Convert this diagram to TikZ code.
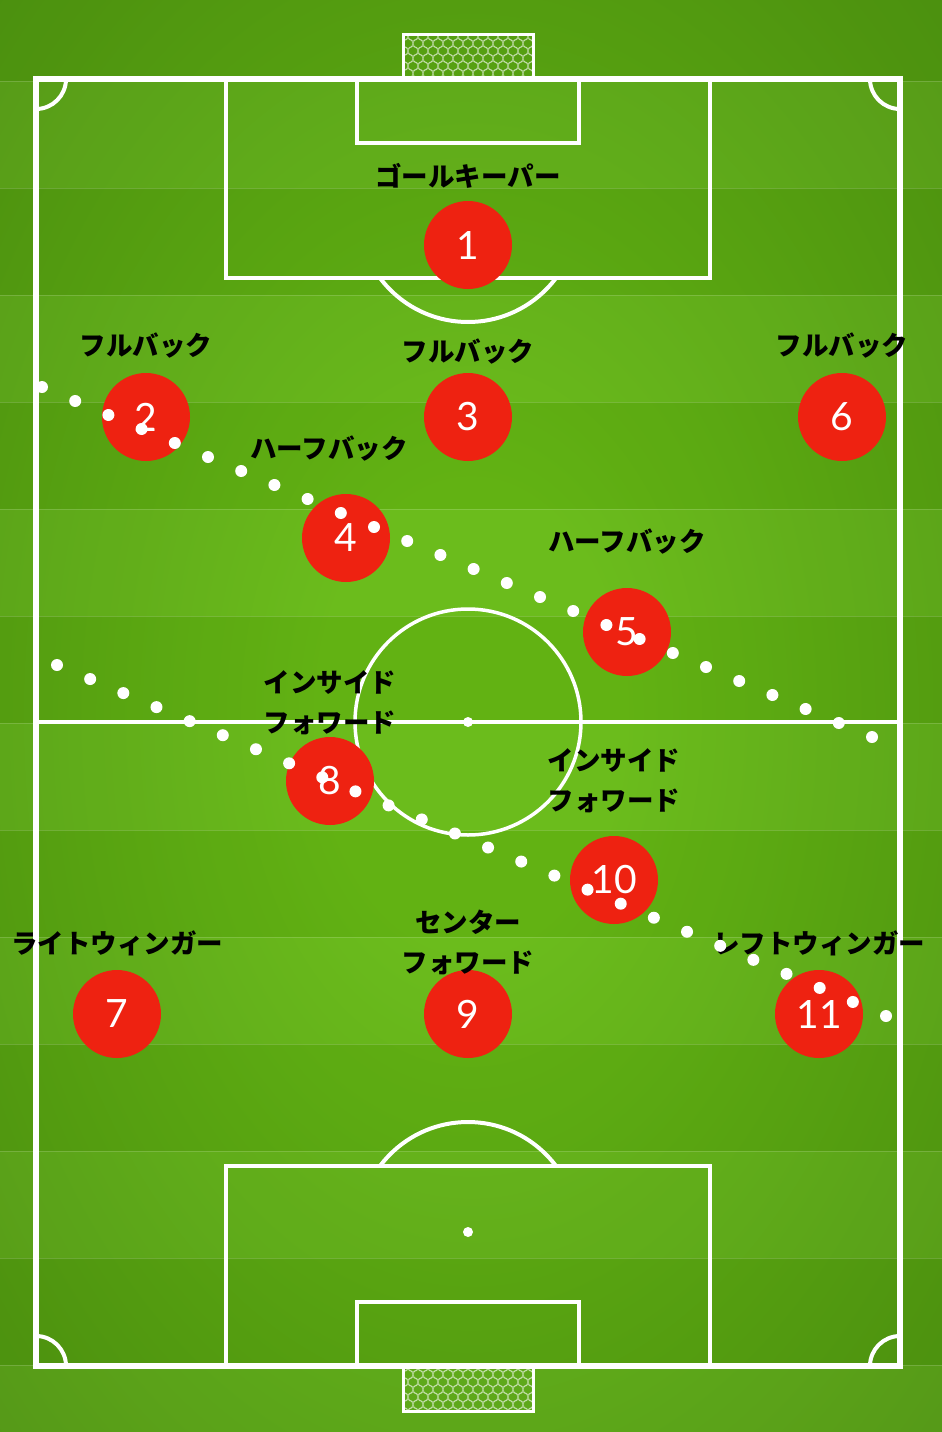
\documentclass[tikz,border=0pt]{standalone}
\usepackage{fontspec}
\newfontfamily\jpfont{Noto Sans CJK JP}
\newfontfamily\numfont{Lato}
\definecolor{grassC}{RGB}{102,186,20}
\definecolor{grassE}{RGB}{50,104,10}
\definecolor{plred}{RGB}{238,34,17}
\pgfdeclareradialshading{grass}{\pgfpoint{0bp}{0bp}}{color(0bp)=(grassC); color(8bp)=(grassC); color(71bp)=(grassE)}
\tikzset{
  pline/.style={draw=white,line width=4},
  netline/.style={draw=white,opacity=0.45,line width=0.9},
  player/.style={circle,fill=plred,minimum size=88,inner sep=0,text=white,font=\numfont\fontsize{39}{39}\selectfont},
  lab/.style={font=\jpfont\bfseries\fontsize{26.5}{40}\selectfont,align=center,text=black,inner sep=0},
  dotw/.style={circle,fill=white,minimum size=12,inner sep=0}
}
\begin{document}
\begin{tikzpicture}[x=1pt,y=-1pt]
\useasboundingbox (0,0) rectangle (942,1432);
\shade[shading=grass] (0,0) rectangle (942,1432);
% stripes
\foreach \k in {0,2,...,12} \fill[white,opacity=0.035] (0,{81+107*\k}) rectangle (942,{188+107*\k});
\foreach \k in {-1,1,...,11} \fill[black,opacity=0.04] (0,{81+107*\k}) rectangle (942,{188+107*\k});
\foreach \k in {0,...,12} \draw[white,opacity=0.16,line width=1] (0,{81+107*\k}) -- (942,{81+107*\k});
% goals with nets
\begin{scope}
\clip (403,33) rectangle (533,79);
\foreach \j in {0,...,6} \foreach \i in {0,...,13} \draw[netline] ({403+10*\i+5*mod(\j,2)},{36+7.5*\j}) circle (5);
\end{scope}
\draw[white,line width=3] (403,79) -- (403,34) -- (533,34) -- (533,79);
\begin{scope}
\clip (403,1366) rectangle (533,1412);
\foreach \j in {0,...,6} \foreach \i in {0,...,13} \draw[netline] ({403+10*\i+5*mod(\j,2)},{1367+7.5*\j}) circle (5);
\end{scope}
\draw[white,line width=3] (403,1366) -- (403,1411) -- (533,1411) -- (533,1366);
% pitch markings
\draw[pline,line width=6] (36,79) rectangle (900,1366);
\draw[pline] (226,79) rectangle (710,278);
\draw[pline] (357,79) rectangle (579,143);
\draw[pline] (226,1166) rectangle (710,1366);
\draw[pline] (357,1302) rectangle (579,1366);
\begin{scope}
\clip (0,280) rectangle (942,420);
\draw[pline] (468,212) circle (110);
\end{scope}
\begin{scope}
\clip (0,1030) rectangle (942,1164);
\draw[pline] (468,1232) circle (110);
\end{scope}
\begin{scope}
\clip (36,79) rectangle (900,1366);
\draw[pline] (36,79) circle (30);
\draw[pline] (900,79) circle (30);
\draw[pline] (36,1366) circle (30);
\draw[pline] (900,1366) circle (30);
\end{scope}
\draw[pline] (36,722) -- (900,722);
\draw[pline,line width=3.5] (468,722) circle (113);
\fill[white] (468,722) circle (5);
\fill[white] (468,212) circle (5);
\fill[white] (468,1232) circle (5);
% players
\node[player] (p1) at (468,245) {1};
\node[player] (p2) at (146,417) {2};
\node[player] (p3) at (468,417) {3};
\node[player] (p6) at (842,417) {6};
\node[player] (p4) at (346,538) {4};
\node[player] (p5) at (627,632) {5};
\node[player] (p8) at (330,781) {8};
\node[player] (p10) at (614,880) {10};
\node[player] (p7) at (117,1014) {7};
\node[player] (p9) at (468,1014) {9};
\node[player] (p11) at (819,1014) {11};
% labels
\node[lab] (l1) at (468,176) {ゴールキーパー};
\node[lab] (l2) at (146,346) {フルバック};
\node[lab] (l3) at (468,352) {フルバック};
\node[lab] (l6) at (842,346) {フルバック};
\node[lab] (l4) at (329,449) {ハーフバック};
\node[lab] (l5) at (627,542) {ハーフバック};
\node[lab] (l8) at (330,703) {インサイド\\フォワード};
\node[lab] (l10) at (614,781) {インサイド\\フォワード};
\node[lab] (l7) at (117,943) {ライトウィンガー};
\node[lab] (l9) at (468,942) {センター\\フォワード};
\node[lab] (l11) at (819,943) {レフトウィンガー};
% dotted runs
\foreach \i in {0,...,25} \node[dotw] (da\i) at ({42+33.2*\i},{387+14*\i}) {};
\foreach \i in {0,...,25} \node[dotw] (db\i) at ({57+33.16*\i},{665+14.04*\i}) {};
\end{tikzpicture}
\end{document}
